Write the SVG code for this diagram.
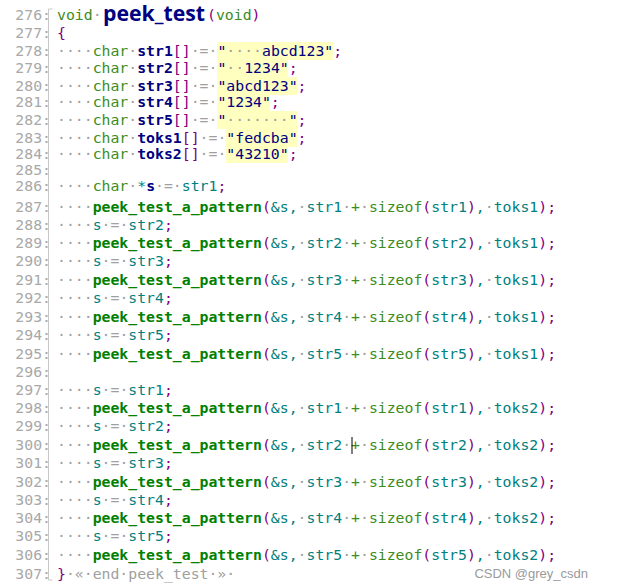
<svg xmlns="http://www.w3.org/2000/svg" width="634" height="588" viewBox="0 0 634 588">
<style>
text{font-family:"DejaVu Sans Mono",monospace;font-size:14.8px}
.n{fill:#a8a8a8}
.k{fill:#3c8c1e}
.d{fill:#000080;font-weight:bold}
.p{fill:#800080}
.w{fill:#a0a0a0}
.s{fill:#000080}
.f{fill:#008000;font-weight:bold}
.i{fill:#008080}
.o{fill:#3c8c1e}
.hl{fill:#ffffc0}
</style>
<rect width="634" height="588" fill="#fff"/>
<g id="gutter" stroke="#c8c8c8" fill="none">
<path d="M52.500 9 H48.500 V580 H52.500"/>
</g>
<g id="numbers" class="n" text-anchor="end">
<text class="n" x="51" y="20">276:</text><text class="n" x="51" y="38">277:</text><text class="n" x="51" y="56">278:</text><text class="n" x="51" y="73">279:</text><text class="n" x="51" y="91">280:</text><text class="n" x="51" y="107">281:</text><text class="n" x="51" y="125">282:</text><text class="n" x="51" y="143">283:</text><text class="n" x="51" y="159">284:</text><text class="n" x="51" y="175">285:</text><text class="n" x="51" y="191">286:</text><text class="n" x="51" y="212">287:</text><text class="n" x="51" y="230">288:</text><text class="n" x="51" y="248">289:</text><text class="n" x="51" y="266">290:</text><text class="n" x="51" y="285">291:</text><text class="n" x="51" y="303">292:</text><text class="n" x="51" y="322">293:</text><text class="n" x="51" y="340">294:</text><text class="n" x="51" y="359">295:</text><text class="n" x="51" y="377">296:</text><text class="n" x="51" y="395">297:</text><text class="n" x="51" y="413">298:</text><text class="n" x="51" y="431">299:</text><text class="n" x="51" y="450">300:</text><text class="n" x="51" y="468">301:</text><text class="n" x="51" y="487">302:</text><text class="n" x="51" y="505">303:</text><text class="n" x="51" y="523">304:</text><text class="n" x="51" y="541">305:</text><text class="n" x="51" y="560">306:</text><text class="n" x="51" y="579">307:</text>
</g>
<g id="highlights">
<rect class="hl" x="217" y="42" width="116" height="18"/>
<rect class="hl" x="217" y="59" width="71" height="18"/>
<rect class="hl" x="217" y="77" width="80" height="18"/>
<rect class="hl" x="217" y="93" width="53" height="18"/>
<rect class="hl" x="217" y="111" width="80" height="18"/>
<rect class="hl" x="226" y="129" width="71" height="18"/>
<rect class="hl" x="226" y="145" width="62" height="18"/>
</g>
<g id="code">
<text x="57" y="20" class="k">void<tspan class="w">·</tspan></text>
<text x="103" y="21" class="d" textLength="102" lengthAdjust="spacingAndGlyphs" style="font-family:'Open Sans','DejaVu Sans',sans-serif;font-size:21px">peek_test</text>
<text x="207" y="20"><tspan class="p">(</tspan><tspan class="k">void</tspan><tspan class="p">)</tspan></text>
<text x="57" y="38" class="p">{</text>
<text x="57" y="56"><tspan class="w">····</tspan><tspan class="k">char</tspan><tspan class="w">·</tspan><tspan class="d">str1</tspan><tspan class="p">[]</tspan><tspan class="w">·=·</tspan><tspan class="s">"</tspan><tspan class="w">····</tspan><tspan class="s">abcd123"</tspan><tspan class="p">;</tspan></text>
<text x="57" y="73"><tspan class="w">····</tspan><tspan class="k">char</tspan><tspan class="w">·</tspan><tspan class="d">str2</tspan><tspan class="p">[]</tspan><tspan class="w">·=·</tspan><tspan class="s">"</tspan><tspan class="w">··</tspan><tspan class="s">1234"</tspan><tspan class="p">;</tspan></text>
<text x="57" y="91"><tspan class="w">····</tspan><tspan class="k">char</tspan><tspan class="w">·</tspan><tspan class="d">str3</tspan><tspan class="p">[]</tspan><tspan class="w">·=·</tspan><tspan class="s">"abcd123"</tspan><tspan class="p">;</tspan></text>
<text x="57" y="107"><tspan class="w">····</tspan><tspan class="k">char</tspan><tspan class="w">·</tspan><tspan class="d">str4</tspan><tspan class="p">[]</tspan><tspan class="w">·=·</tspan><tspan class="s">"1234"</tspan><tspan class="p">;</tspan></text>
<text x="57" y="125"><tspan class="w">····</tspan><tspan class="k">char</tspan><tspan class="w">·</tspan><tspan class="d">str5</tspan><tspan class="p">[]</tspan><tspan class="w">·=·</tspan><tspan class="s">"</tspan><tspan class="w">·······</tspan><tspan class="s">"</tspan><tspan class="p">;</tspan></text>
<text x="57" y="143"><tspan class="w">····</tspan><tspan class="k">char</tspan><tspan class="w">·</tspan><tspan class="d">toks1</tspan><tspan class="p">[]</tspan><tspan class="w">·=·</tspan><tspan class="s">"fedcba"</tspan><tspan class="p">;</tspan></text>
<text x="57" y="159"><tspan class="w">····</tspan><tspan class="k">char</tspan><tspan class="w">·</tspan><tspan class="d">toks2</tspan><tspan class="p">[]</tspan><tspan class="w">·=·</tspan><tspan class="s">"43210"</tspan><tspan class="p">;</tspan></text>
<text x="57" y="191"><tspan class="w">····</tspan><tspan class="k">char</tspan><tspan class="w">·</tspan><tspan class="i">*</tspan><tspan class="d">s</tspan><tspan class="w">·=·</tspan><tspan class="i">str1</tspan><tspan class="p">;</tspan></text>

<text x="57" y="212"><tspan class="w">····</tspan><tspan class="f">peek_test_a_pattern</tspan><tspan class="p">(</tspan><tspan class="i">&amp;s,</tspan><tspan class="w">·</tspan><tspan class="i">str1</tspan><tspan class="w">·</tspan><tspan class="o">+</tspan><tspan class="w">·</tspan><tspan class="k">sizeof</tspan><tspan class="p">(</tspan><tspan class="i">str1</tspan><tspan class="p">)</tspan><tspan class="i">,</tspan><tspan class="w">·</tspan><tspan class="i">toks1</tspan><tspan class="p">);</tspan></text>
<text x="57" y="230"><tspan class="w">····</tspan><tspan class="i">s</tspan><tspan class="w">·=·</tspan><tspan class="i">str2</tspan><tspan class="p">;</tspan></text>
<text x="57" y="248"><tspan class="w">····</tspan><tspan class="f">peek_test_a_pattern</tspan><tspan class="p">(</tspan><tspan class="i">&amp;s,</tspan><tspan class="w">·</tspan><tspan class="i">str2</tspan><tspan class="w">·</tspan><tspan class="o">+</tspan><tspan class="w">·</tspan><tspan class="k">sizeof</tspan><tspan class="p">(</tspan><tspan class="i">str2</tspan><tspan class="p">)</tspan><tspan class="i">,</tspan><tspan class="w">·</tspan><tspan class="i">toks1</tspan><tspan class="p">);</tspan></text>
<text x="57" y="266"><tspan class="w">····</tspan><tspan class="i">s</tspan><tspan class="w">·=·</tspan><tspan class="i">str3</tspan><tspan class="p">;</tspan></text>
<text x="57" y="285"><tspan class="w">····</tspan><tspan class="f">peek_test_a_pattern</tspan><tspan class="p">(</tspan><tspan class="i">&amp;s,</tspan><tspan class="w">·</tspan><tspan class="i">str3</tspan><tspan class="w">·</tspan><tspan class="o">+</tspan><tspan class="w">·</tspan><tspan class="k">sizeof</tspan><tspan class="p">(</tspan><tspan class="i">str3</tspan><tspan class="p">)</tspan><tspan class="i">,</tspan><tspan class="w">·</tspan><tspan class="i">toks1</tspan><tspan class="p">);</tspan></text>
<text x="57" y="303"><tspan class="w">····</tspan><tspan class="i">s</tspan><tspan class="w">·=·</tspan><tspan class="i">str4</tspan><tspan class="p">;</tspan></text>
<text x="57" y="322"><tspan class="w">····</tspan><tspan class="f">peek_test_a_pattern</tspan><tspan class="p">(</tspan><tspan class="i">&amp;s,</tspan><tspan class="w">·</tspan><tspan class="i">str4</tspan><tspan class="w">·</tspan><tspan class="o">+</tspan><tspan class="w">·</tspan><tspan class="k">sizeof</tspan><tspan class="p">(</tspan><tspan class="i">str4</tspan><tspan class="p">)</tspan><tspan class="i">,</tspan><tspan class="w">·</tspan><tspan class="i">toks1</tspan><tspan class="p">);</tspan></text>
<text x="57" y="340"><tspan class="w">····</tspan><tspan class="i">s</tspan><tspan class="w">·=·</tspan><tspan class="i">str5</tspan><tspan class="p">;</tspan></text>
<text x="57" y="359"><tspan class="w">····</tspan><tspan class="f">peek_test_a_pattern</tspan><tspan class="p">(</tspan><tspan class="i">&amp;s,</tspan><tspan class="w">·</tspan><tspan class="i">str5</tspan><tspan class="w">·</tspan><tspan class="o">+</tspan><tspan class="w">·</tspan><tspan class="k">sizeof</tspan><tspan class="p">(</tspan><tspan class="i">str5</tspan><tspan class="p">)</tspan><tspan class="i">,</tspan><tspan class="w">·</tspan><tspan class="i">toks1</tspan><tspan class="p">);</tspan></text>

<text x="57" y="395"><tspan class="w">····</tspan><tspan class="i">s</tspan><tspan class="w">·=·</tspan><tspan class="i">str1</tspan><tspan class="p">;</tspan></text>
<text x="57" y="413"><tspan class="w">····</tspan><tspan class="f">peek_test_a_pattern</tspan><tspan class="p">(</tspan><tspan class="i">&amp;s,</tspan><tspan class="w">·</tspan><tspan class="i">str1</tspan><tspan class="w">·</tspan><tspan class="o">+</tspan><tspan class="w">·</tspan><tspan class="k">sizeof</tspan><tspan class="p">(</tspan><tspan class="i">str1</tspan><tspan class="p">)</tspan><tspan class="i">,</tspan><tspan class="w">·</tspan><tspan class="i">toks2</tspan><tspan class="p">);</tspan></text>
<text x="57" y="431"><tspan class="w">····</tspan><tspan class="i">s</tspan><tspan class="w">·=·</tspan><tspan class="i">str2</tspan><tspan class="p">;</tspan></text>
<text x="57" y="450"><tspan class="w">····</tspan><tspan class="f">peek_test_a_pattern</tspan><tspan class="p">(</tspan><tspan class="i">&amp;s,</tspan><tspan class="w">·</tspan><tspan class="i">str2</tspan><tspan class="w">·</tspan><tspan class="o">+</tspan><tspan class="w">·</tspan><tspan class="k">sizeof</tspan><tspan class="p">(</tspan><tspan class="i">str2</tspan><tspan class="p">)</tspan><tspan class="i">,</tspan><tspan class="w">·</tspan><tspan class="i">toks2</tspan><tspan class="p">);</tspan></text>
<text x="57" y="468"><tspan class="w">····</tspan><tspan class="i">s</tspan><tspan class="w">·=·</tspan><tspan class="i">str3</tspan><tspan class="p">;</tspan></text>
<text x="57" y="487"><tspan class="w">····</tspan><tspan class="f">peek_test_a_pattern</tspan><tspan class="p">(</tspan><tspan class="i">&amp;s,</tspan><tspan class="w">·</tspan><tspan class="i">str3</tspan><tspan class="w">·</tspan><tspan class="o">+</tspan><tspan class="w">·</tspan><tspan class="k">sizeof</tspan><tspan class="p">(</tspan><tspan class="i">str3</tspan><tspan class="p">)</tspan><tspan class="i">,</tspan><tspan class="w">·</tspan><tspan class="i">toks2</tspan><tspan class="p">);</tspan></text>
<text x="57" y="505"><tspan class="w">····</tspan><tspan class="i">s</tspan><tspan class="w">·=·</tspan><tspan class="i">str4</tspan><tspan class="p">;</tspan></text>
<text x="57" y="523"><tspan class="w">····</tspan><tspan class="f">peek_test_a_pattern</tspan><tspan class="p">(</tspan><tspan class="i">&amp;s,</tspan><tspan class="w">·</tspan><tspan class="i">str4</tspan><tspan class="w">·</tspan><tspan class="o">+</tspan><tspan class="w">·</tspan><tspan class="k">sizeof</tspan><tspan class="p">(</tspan><tspan class="i">str4</tspan><tspan class="p">)</tspan><tspan class="i">,</tspan><tspan class="w">·</tspan><tspan class="i">toks2</tspan><tspan class="p">);</tspan></text>
<text x="57" y="541"><tspan class="w">····</tspan><tspan class="i">s</tspan><tspan class="w">·=·</tspan><tspan class="i">str5</tspan><tspan class="p">;</tspan></text>
<text x="57" y="560"><tspan class="w">····</tspan><tspan class="f">peek_test_a_pattern</tspan><tspan class="p">(</tspan><tspan class="i">&amp;s,</tspan><tspan class="w">·</tspan><tspan class="i">str5</tspan><tspan class="w">·</tspan><tspan class="o">+</tspan><tspan class="w">·</tspan><tspan class="k">sizeof</tspan><tspan class="p">(</tspan><tspan class="i">str5</tspan><tspan class="p">)</tspan><tspan class="i">,</tspan><tspan class="w">·</tspan><tspan class="i">toks2</tspan><tspan class="p">);</tspan></text>
<text x="57" y="579"><tspan class="p">}</tspan><tspan class="w">·«·end·peek_test·»·</tspan></text>
</g>
<line id="cursor" x1="352" y1="437" x2="352" y2="454" stroke="#000" stroke-width="1"/>
<text x="588" y="578" text-anchor="end" style="font-family:'Liberation Sans',sans-serif;font-size:13px;fill:#9a9a9a">CSDN @grey_csdn</text>
</svg>
